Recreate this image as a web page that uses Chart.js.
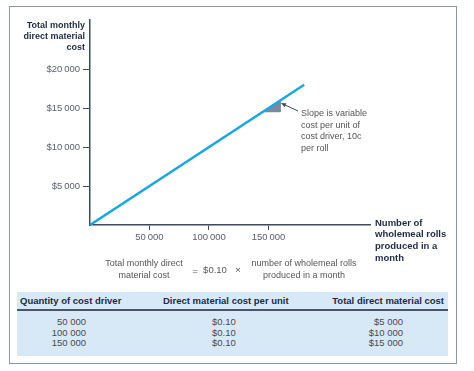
<!DOCTYPE html>
<html>
<head>
<meta charset="utf-8">
<script src="https://cdn.jsdelivr.net/npm/chart.js@4.4.1/dist/chart.umd.min.js"></script>
<style>
  html, body { margin: 0; padding: 0; background: #fff; }
  #page { position: relative; width: 474px; height: 371px; overflow: hidden; font-family: "Liberation Sans", Arial, sans-serif; }
  #frame { position: absolute; left: 9px; top: 6px; width: 448px; height: 358px; border: 1.5px solid #8d96a8; box-sizing: border-box; }
  #chartWrap { position: absolute; left: 0; top: 0; width: 474px; height: 290px; }
  #costTable { position: absolute; left: 17px; top: 292px; width: 431px; height: 64px; background: #d7e9f7; }
  #costTable div { position: absolute; white-space: nowrap; font-size: 9.5px; line-height: 10px; }
  #costTable .head { font-weight: bold; color: #1e2a44; top: 4px; }
  #costTable .rule { left: 0; width: 431px; top: 17px; height: 1.5px; background: #4b5668; }
  #costTable .cell { color: #4a4a4a; }
</style>
</head>
<body>
<div id="page">
  <div id="frame"></div>
  <div id="chartWrap"><canvas id="costChart"></canvas></div>
  <div id="costTable"></div>
</div>
<script>
// --- data ---
const lineRolls = [0, 180000];
const lineCost = [0, 18000];
const slopeRolls = [145000, 160000, 160000, 145000];
const slopeCost = [14500, 16000, 14500, 14500];
const xTicks = [50000, 100000, 150000];
const yTicks = [5000, 10000, 15000, 20000];

const tableHeads = ['Quantity of cost driver', 'Direct material cost per unit', 'Total direct material cost'];
const tableQty = [50000, 100000, 150000];
const tableUnit = [0.10, 0.10, 0.10];
const tableTotal = [5000, 10000, 15000];

const yTitle = ['Total monthly', 'direct material', 'cost'];
const xTitle = ['Number of', 'wholemeal rolls', 'produced in a', 'month'];
const slopeNote = ['Slope is variable', 'cost per unit of', 'cost driver, 10c', 'per roll'];
const eqLeft = ['Total monthly direct', 'material cost'];
const eqRight = ['number of wholemeal rolls', 'produced in a month'];

const FONT = '"Liberation Sans", Arial, sans-serif';
const AXIS = '#3d4a5c';

function group(n, sep) {
  return String(n).replace(/\B(?=(\d{3})+(?!\d))/g, sep);
}

// table below the chart
function buildTable() {
  const box = document.getElementById('costTable');
  const add = (cls, text, css) => {
    const d = document.createElement('div');
    d.className = cls;
    d.textContent = text;
    Object.assign(d.style, css);
    box.appendChild(d);
  };
  add('head', tableHeads[0], { left: '3px' });
  add('head', tableHeads[1], { left: '146px' });
  add('head', tableHeads[2], { right: '4px' });
  add('rule', '', {});
  tableQty.forEach((q, i) => {
    const top = (25 + i * 10.7) + 'px';
    add('cell', group(q, ' '), { right: (431 - 69) + 'px', top });
    add('cell', '$' + tableUnit[i].toFixed(2), { left: '195px', top });
    add('cell', '$' + group(tableTotal[i], ' '), { right: (431 - 386) + 'px', top });
  });
}

// titles, slope note, arrow and equation
const labelsPlugin = {
  id: 'labels',
  afterDraw(chart) {
    const { ctx, chartArea, scales } = chart;
    ctx.save();
    ctx.textBaseline = 'middle';

    ctx.fillStyle = '#1e2a44';
    ctx.font = 'bold 9px ' + FONT;
    ctx.textAlign = 'right';
    yTitle.forEach((t, i) => ctx.fillText(t, chartArea.left - 5, 26 + i * 11));
    ctx.textAlign = 'left';
    ctx.font = 'bold 9.5px ' + FONT;
    xTitle.forEach((t, i) => ctx.fillText(t, chartArea.right + 5, chartArea.bottom - 2 + i * 11.7));

    ctx.fillStyle = '#555';
    ctx.font = '9px ' + FONT;
    slopeNote.forEach((t, i) => ctx.fillText(t, 301, 114 + i * 11.5));

    // arrow to the slope triangle
    const tipX = scales.x.getPixelForValue(slopeRolls[1]) + 1;
    const tipY = scales.y.getPixelForValue(slopeCost[1]) + 3;
    const fromX = 298, fromY = 111;
    const ang = Math.atan2(tipY - fromY, tipX - fromX);
    ctx.strokeStyle = '#3d4a5c';
    ctx.fillStyle = '#3d4a5c';
    ctx.lineWidth = 1;
    ctx.beginPath();
    ctx.moveTo(fromX, fromY);
    ctx.lineTo(tipX, tipY);
    ctx.stroke();
    ctx.beginPath();
    ctx.moveTo(tipX, tipY);
    ctx.lineTo(tipX - 5 * Math.cos(ang - 0.45), tipY - 5 * Math.sin(ang - 0.45));
    ctx.lineTo(tipX - 5 * Math.cos(ang + 0.45), tipY - 5 * Math.sin(ang + 0.45));
    ctx.closePath();
    ctx.fill();

    // equation under the axis
    ctx.fillStyle = '#555';
    ctx.font = '9px ' + FONT;
    ctx.textAlign = 'center';
    eqLeft.forEach((t, i) => ctx.fillText(t, 144, 264 + i * 11.5));
    eqRight.forEach((t, i) => ctx.fillText(t, 304, 264 + i * 11.5));
    ctx.font = '9.5px ' + FONT;
    ctx.fillText('=', 195, 271);
    ctx.fillText('$0.10', 215, 270);
    ctx.fillText('\u00d7', 238, 270);
    ctx.restore();
  }
};

function tickScale(ticks, prefix) {
  return {
    type: 'linear',
    afterBuildTicks: (scale) => { scale.ticks = ticks.map(v => ({ value: v })); },
    border: { color: AXIS, width: 1.5 },
    grid: { drawOnChartArea: false, drawTicks: true, color: AXIS, lineWidth: 1 },
    ticks: {
      color: '#5a6070',
      font: { family: FONT, size: 9.5 },
      autoSkip: false,
      maxRotation: 0,
      callback: (v) => prefix + group(v, '\u2009')
    }
  };
}

function createChart() {
  const ctx = document.getElementById('costChart');
  const xScale = tickScale(xTicks, '');
  Object.assign(xScale, { min: 0, max: 235300, afterFit: (s) => { s.height = 20; } });
  xScale.grid.tickLength = 5;
  xScale.ticks.padding = 2;

  const yScale = tickScale(yTicks, '$');
  Object.assign(yScale, { min: 0, max: 26300, afterFit: (s) => { s.width = 90; } });
  yScale.grid.tickLength = 7;
  yScale.ticks.padding = 3;

  new Chart(ctx, {
    type: 'scatter',
    data: {
      datasets: [{
        data: lineRolls.map((x, i) => ({ x, y: lineCost[i] })),
        showLine: true,
        borderColor: '#1aa7e0',
        borderWidth: 2.5,
        pointRadius: 0
      }, {
        data: slopeRolls.map((x, i) => ({ x, y: slopeCost[i] })),
        showLine: true,
        fill: 'shape',
        backgroundColor: '#7b8aa3',
        borderColor: '#7b8aa3',
        borderWidth: 0.5,
        pointRadius: 0
      }]
    },
    options: {
      responsive: false,
      animation: false,
      layout: { padding: { top: 20, right: 104, left: 0, bottom: 45 } },
      plugins: { legend: { display: false }, tooltip: { enabled: false } },
      scales: { x: xScale, y: yScale }
    },
    plugins: [labelsPlugin]
  });
}

document.getElementById('costChart').width = 474;
document.getElementById('costChart').height = 290;
buildTable();
createChart();
</script>
</body>
</html>
